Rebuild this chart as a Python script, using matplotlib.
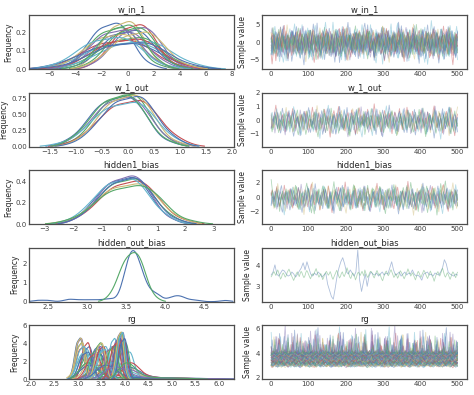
import numpy as np
import matplotlib
matplotlib.use("Agg")
import matplotlib.pyplot as plt
import seaborn as sns

# hand-read noise shapes (one value per ~5 draws), reused for every component
S0 = [0.3, -0.5, 1.2, 0.8, -0.2, -1.4, -0.6, 0.1, 1.5, 2.1, 0.9, -0.3, -1.1, -0.4, 0.6, 1.0, 0.2, -0.8, -1.9, -1.2,
      0.0, 0.7, 1.3, 0.4, -0.5, -0.9, 0.3, 1.8, 1.1, -0.2, -1.5, -2.3, -1.0, 0.2, 0.9, 0.5, -0.3, 0.8, 1.6, 0.6,
      -0.7, -1.3, -0.2, 0.4, 1.1, 2.4, 1.2, 0.1, -0.6, -1.0, -0.1, 0.5, -0.4, -1.7, -0.8, 0.6, 1.4, 0.7, -0.1, -0.9,
      0.2, 1.0, 0.3, -1.2, -2.0, -0.9, 0.4, 1.2, 0.8, -0.3, 0.1, 0.9, 1.7, 0.5, -0.6, -1.4, -0.5, 0.3, -0.2, 0.7,
      1.9, 1.0, -0.4, -1.1, -0.3, 0.5, 1.3, 0.2, -0.8, -1.6, -0.7, 0.4, 0.0, -0.5, 0.8, 1.5, 0.6, -0.4, -1.2, 0.1]
S1 = [-0.8, -0.2, 0.5, 1.1, 0.4, -0.3, 0.9, 1.7, 0.8, -0.5, -1.6, -1.0, 0.2, 0.6, -0.1, -0.9, -0.4, 0.7, 1.4, 2.0,
      1.1, 0.3, -0.6, -1.3, -2.1, -1.2, -0.2, 0.5, 1.0, 0.1, -0.7, 0.4, 1.2, 0.6, -0.4, -1.1, -0.5, 0.8, 1.5, 0.9,
      0.0, -0.8, -1.5, -0.6, 0.3, -0.2, 0.6, 1.3, 2.2, 1.0, -0.1, -0.9, -0.3, 0.4, -0.5, -1.8, -1.1, 0.1, 0.7, 1.2,
      0.5, -0.2, 0.3, 1.1, 0.2, -1.0, -1.7, -0.8, 0.0, 0.8, 1.6, 0.7, -0.4, -1.2, -0.6, 0.5, 1.0, -0.1, -0.7, 0.2,
      1.4, 2.5, 1.3, 0.2, -0.9, -1.4, -0.3, 0.6, 0.1, -0.6, -1.9, -1.0, 0.3, 0.9, 0.4, -0.3, 0.5, 1.2, 0.3, -0.5]
S2 = [1.0, 0.4, -0.6, -1.2, -0.3, 0.8, 1.5, 0.7, -0.2, 0.3, -0.7, -1.6, -2.2, -1.1, 0.1, 0.9, 1.3, 0.5, -0.4, 0.2,
      1.1, 1.8, 0.9, -0.1, -1.0, -0.5, 0.4, -0.3, -1.3, -0.6, 0.6, 1.4, 0.8, 0.0, -0.8, -1.5, -0.7, 0.3, 1.0, 2.1,
      1.2, 0.2, -0.5, 0.1, 0.7, -0.2, -1.1, -1.9, -0.9, 0.4, 1.2, 0.6, -0.3, -1.0, 0.0, 0.8, 1.6, 1.0, 0.1, -0.7,
      -1.4, -0.4, 0.5, 1.3, 0.3, -0.6, -1.2, -2.4, -1.3, -0.1, 0.6, 1.1, 0.2, -0.5, 0.4, 1.5, 2.3, 1.1, -0.2, -0.9,
      -0.2, 0.7, 0.1, -0.8, -1.7, -0.8, 0.3, 1.0, 0.5, -0.4, -1.1, 0.2, 0.9, 1.7, 0.6, -0.3, -1.0, -0.4, 0.6, 1.2]
S3 = [-0.2, 0.6, 1.3, 0.5, -0.7, -1.4, -0.5, 0.2, -0.3, 0.9, 1.9, 1.0, 0.1, -0.9, -1.8, -0.8, 0.4, 1.1, 0.3, -0.4,
      -1.2, -0.2, 0.7, 1.6, 0.8, -0.1, 0.5, -0.6, -1.5, -2.5, -1.2, -0.3, 0.8, 1.4, 0.6, -0.5, 0.2, 1.2, 2.0, 0.9,
      -0.2, -1.0, -0.4, 0.3, -0.8, -1.6, -0.6, 0.5, 1.1, 0.4, -0.3, 0.6, 1.5, 0.7, -0.4, -1.3, -2.0, -0.9, 0.2, 1.0,
      1.8, 0.8, -0.1, -0.7, 0.1, 0.9, 0.2, -1.1, -0.5, 0.4, 1.3, 2.2, 1.1, 0.0, -0.8, -1.5, -0.6, 0.3, 0.8, -0.1,
      -1.0, -1.7, -0.7, 0.5, 1.2, 0.4, -0.5, 0.3, 1.0, 1.7, 0.6, -0.4, -1.2, -0.3, 0.6, -0.2, -0.9, 0.1, 0.8, 0.2]
# right-skewed shape for the rg tail
SK = [-0.3, 0.1, -0.5, 0.4, -0.2, 2.5, 0.8, -0.4, 0.0, -0.6, 0.3, -0.1, 1.2, 3.8, 1.0, -0.3, -0.7, 0.2, -0.2, 0.5,
      -0.4, 0.1, 2.0, 0.6, -0.5, -0.1, 0.3, -0.6, 0.0, 4.5, 1.5, -0.2, -0.4, 0.2, -0.3, 0.6, 0.1, -0.5, 1.8, 0.4,
      -0.2, 0.0, -0.6, 0.3, 3.0, 0.9, -0.3, 0.2, -0.4, -0.1, 0.5, -0.5, 0.0, 2.8, 5.0, 1.2, -0.2, -0.6, 0.1, 0.4,
      -0.3, 0.2, 1.5, -0.1, -0.5, 0.3, -0.2, 3.5, 0.7, -0.4, 0.0, -0.3, 0.4, 0.1, -0.6, 2.2, 0.5, -0.2, 0.3, -0.5,
      0.0, 4.0, 1.1, -0.3, 0.2, -0.4, 0.1, -0.1, 0.6, -0.5, 1.6, 3.2, 0.4, -0.3, 0.0, -0.6, 0.2, 0.5, -0.2, 0.1]
BASES = [S0, S1, S2, S3]

# per-component centre / spread
w_in_1_mean = [-1.4, -1.1, -0.9, -0.6, -0.4, -0.45, -0.1, 0.1, 0.4, 0.6, -1.2, 0.5, -0.7, 0.2, -0.2, -1.0, 0.7, -1.5, 0.0, -0.5]
w_in_1_sd = [1.45, 1.6, 2.3, 1.8, 1.4, 2.5, 1.7, 2.1, 1.5, 1.6, 1.9, 2.4, 2.6, 1.6, 2.2, 1.7, 1.8, 2.1, 2.5, 1.5]
w_1_out_mean = [-0.22, -0.12, 0.0, -0.15, -0.06, -0.1, 0.0, -0.2]
w_1_out_sd = [0.46, 0.44, 0.5, 0.47, 0.45, 0.52, 0.46, 0.45]
hidden1_mean = [-0.25, -0.15, -0.05, -0.2, -0.1, -0.3, -0.15, -0.05]
hidden1_sd = [0.82, 0.85, 0.9, 0.8, 0.95, 0.85, 0.84, 1.0]
# hidden_out_bias, chain drawn by hand (every 5th draw)
hob_chain = [3.55, 3.7, 4.05, 3.6, 3.5, 3.65, 3.8, 3.75, 3.6, 3.5,
             3.55, 3.7, 3.6, 3.45, 3.6, 3.75, 3.9, 4.15, 3.8, 4.2,
             3.9, 3.6, 3.5, 3.65, 3.55, 3.7, 3.6, 3.45, 3.55, 3.65,
             3.1, 2.8, 2.5, 2.37, 2.9, 3.5, 3.9, 4.2, 4.4, 4.1,
             3.7, 3.6, 3.8, 3.65, 3.5, 3.7, 4.77, 3.3, 2.75, 3.2,
             3.6, 3.0, 3.5, 3.7, 3.6, 3.55, 3.65, 3.5, 3.6, 3.7,
             3.55, 3.65, 3.6, 3.9, 4.2, 3.8, 3.55, 3.6, 3.7, 3.5,
             3.6, 3.7, 3.55, 3.65, 3.6, 3.8, 3.6, 3.5, 3.55, 3.45,
             3.3, 3.6, 3.65, 3.7, 3.55, 3.6, 3.5, 3.65, 3.6, 3.55,
             3.7, 3.9, 4.3, 4.1, 3.7, 3.6, 3.55, 3.5, 3.6, 3.55]
hob_mean = [3.6, 3.57]
hob_sd = [0.14, 0.135]
rg_mean = [3.02, 3.05, 3.08, 3.04, 3.10, 3.15, 3.20, 3.22, 3.18, 3.25, 3.30, 3.35, 3.40, 3.45, 3.48, 3.50, 3.52, 3.55, 3.42, 3.60,
           3.65, 3.70, 3.72, 3.75, 3.78, 3.80, 3.85, 3.88, 3.90, 3.92, 3.95, 3.90, 3.87, 3.93, 4.00, 4.05, 4.10, 3.98, 4.15, 3.83,
           3.06, 3.12, 3.28, 3.38, 3.5, 3.58, 3.68, 3.76, 3.86, 3.91, 3.94, 4.02,
           3.03, 3.09, 3.16, 3.24, 3.33, 3.44, 3.47, 3.53, 3.63, 3.73, 3.79, 3.84, 3.89, 3.92, 3.96, 4.07]
rg_sd = [0.08, 0.09, 0.1, 0.08, 0.12, 0.11, 0.1, 0.13, 0.09, 0.12, 0.14, 0.12, 0.1, 0.09, 0.11, 0.1, 0.12, 0.1, 0.13, 0.12,
         0.11, 0.1, 0.09, 0.08, 0.1, 0.09, 0.08, 0.07, 0.07, 0.08, 0.09, 0.07, 0.08, 0.07, 0.1, 0.12, 0.13, 0.09, 0.14, 0.08,
         0.09, 0.12, 0.13, 0.11, 0.1, 0.12, 0.11, 0.09, 0.08, 0.07, 0.08, 0.1,
         0.08, 0.1, 0.12, 0.11, 0.13, 0.1, 0.09, 0.11, 0.12, 0.1, 0.09, 0.08, 0.07, 0.07, 0.08, 0.11]
rg_skew = [4, 9, 14, 19, 22, 24, 29, 34, 36, 38, 42, 45, 47, 51, 55, 60, 63, 67]   # components with the long right tail
rg_skew_scale = [0.25, 0.3, 0.35, 0.3, 0.4, 0.35, 0.45, 0.3, 0.4, 0.3, 0.35, 0.4, 0.3, 0.45, 0.3, 0.35, 0.4, 0.3]

names = ["w_in_1", "w_1_out", "hidden1_bias", "hidden_out_bias", "rg"]
kde_xlim = [(-7.6, 8.2), (-1.89, 2.03), (-3.57, 3.74), (2.26, 4.88), (1.96, 6.32)]
kde_ylim = [(0, 0.297), (0, 0.85), (0, 0.51), (0, 2.85), (0, 6.0)]
kde_xticks = [np.arange(-6, 9, 2), np.arange(-1.5, 2.01, 0.5), np.arange(-3, 4, 1), np.arange(2.5, 4.51, 0.5), np.arange(2.0, 6.01, 0.5)]
kde_yticks = [[0.0, 0.1, 0.2], [0.0, 0.25, 0.5, 0.75], [0.0, 0.2, 0.4], [0, 1, 2], [0, 2, 4, 6]]
kde_bw = [None, None, None, 0.065, None]
tr_ylim = [(-7.9, 7.9), (-1.95, 2.03), (-3.7, 3.75), (2.25, 4.89), (1.9, 6.3)]
tr_yticks = [[-5, 0, 5], [-1, 0, 1, 2], [-2, 0, 2], [3, 4], [2, 4, 6]]

colors = ["#4C72B0", "#55A868", "#C44E52", "#8172B2", "#CCB974", "#64B5CD"]


def chains(means, sds, first=0):
    out = []
    for k, (m, s) in enumerate(zip(means, sds)):
        a = np.roll(BASES[(k + first) % 4], (k * 17) % 100)
        b = np.roll(BASES[(k + first + 1) % 4], (k * 29 + 7) % 100)
        out.append(m + s * np.concatenate([a, b]))
    return out


def kde(s, bw=None, n=200):
    s = np.asarray(s)
    h = bw or 1.06 * s.std() * len(s) ** (-0.2)
    xs = np.linspace(s.min() - 1.5 * h, s.max() + 1.5 * h, n)
    d = np.exp(-0.5 * ((xs[:, None] - s[None, :]) / h) ** 2).sum(1) / (len(s) * h * np.sqrt(2 * np.pi))
    return xs, d


traces = [chains(w_in_1_mean, w_in_1_sd),
          chains(w_1_out_mean, w_1_out_sd, 1),
          chains(hidden1_mean, hidden1_sd, 2),
          [np.asarray(hob_chain)] + chains(hob_mean[1:], hob_sd[1:], 1),
          chains(rg_mean, rg_sd)]
for j, k in enumerate(rg_skew):
    traces[4][k] = rg_mean[k] + rg_skew_scale[j] * np.concatenate([np.roll(SK, (k * 11) % 100), np.roll(SK, (k * 23 + 5) % 100)])

sns.set_style("white")
plt.rcParams["font.family"] = ["DejaVu Sans"]
plt.rcParams["axes.prop_cycle"] = matplotlib.cycler(color=colors)

fig, axes = plt.subplots(5, 2, figsize=(4.74, 3.95), dpi=100)
fig.subplots_adjust(left=0.061, right=0.985, top=0.962, bottom=0.04, wspace=0.136, hspace=0.436)

for i, name in enumerate(names):
    axk, axt = axes[i]
    for k, tr in enumerate(traces[i]):
        c = colors[k % len(colors)]
        xs, d = kde(tr, kde_bw[i])
        axk.plot(xs, d, color=c, lw=0.8)
        axt.plot(np.linspace(0, 500, len(tr)), tr, color=c, lw=0.6, alpha=0.45)
    axk.set_xlim(kde_xlim[i])
    axk.set_ylim(kde_ylim[i])
    axk.set_xticks(kde_xticks[i])
    axk.set_yticks(kde_yticks[i])
    axt.set_xlim(-25, 525)
    axt.set_xticks([0, 100, 200, 300, 400, 500])
    axt.set_ylim(tr_ylim[i])
    axt.set_yticks(tr_yticks[i])
    axk.set_ylabel("Frequency", fontsize=5.5, labelpad=2)
    axt.set_ylabel("Sample value", fontsize=5.5, labelpad=2)
    for ax in (axk, axt):
        ax.set_title(name, fontsize=6, pad=2)
        ax.tick_params(labelsize=5, pad=1.5, length=0, colors=".25")
        for sp in ax.spines.values():
            sp.set_linewidth(0.9)
            sp.set_color(".3")

fig.savefig("out.png", dpi=100)
